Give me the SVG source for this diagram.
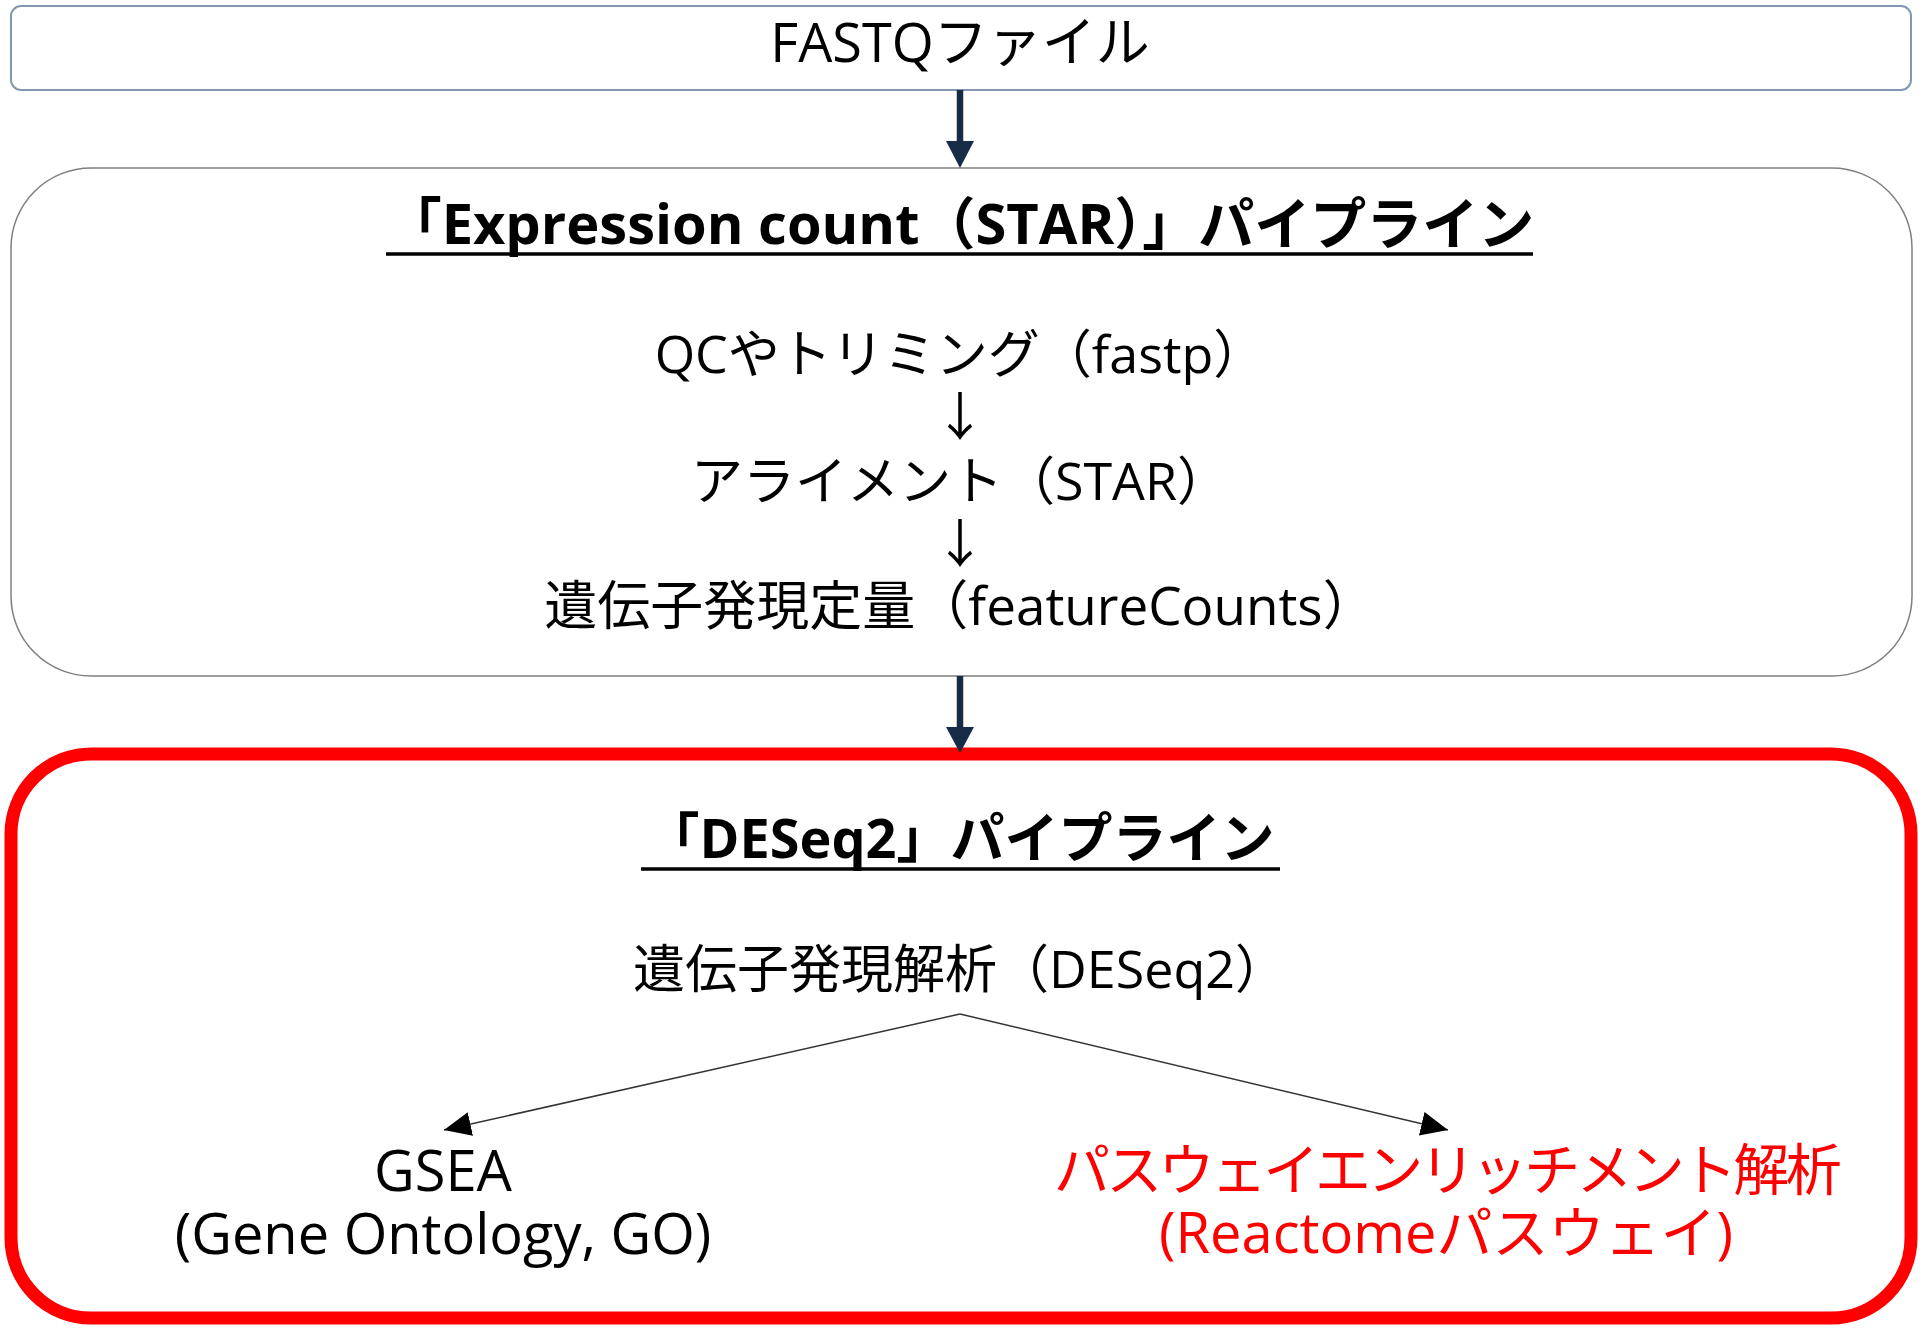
<svg xmlns="http://www.w3.org/2000/svg" width="1920" height="1328" viewBox="0 0 1920 1328">
<defs>
<style>
.t{font-family:"Open Sans","Noto Sans CJK JP",sans-serif;fill:#000;text-anchor:middle}
.b{font-weight:700}
.red{fill:#ff0000}
.ul{stroke:#000;stroke-width:3.5}
.thin{stroke:#333;stroke-width:1.5;fill:none}
.navy{stroke:#162b45;stroke-width:6.5}
</style>
<marker id="ah" markerUnits="userSpaceOnUse" markerWidth="27" markerHeight="24" refX="27" refY="12" orient="auto" viewBox="0 0 27 24">
<path d="M0,0 L27,12 L0,24 z" fill="#000"/>
</marker>
</defs>
<rect width="1920" height="1328" fill="#fff"/>
<g id="fastq">
<rect x="11" y="6" width="1900" height="84" rx="10" fill="#fff" stroke="#8497b0" stroke-width="2"/>
<text class="t" x="960" y="62" font-size="54">FASTQファイル</text>
</g>
<g id="star">
<rect x="11" y="168" width="1901" height="508" rx="80" fill="#fff" stroke="#7f7f7f" stroke-width="1.5"/>
<text class="t b" x="960" y="244" font-size="56">「Expression count（STAR）」パイプライン</text>
<line class="ul" x1="386" y1="254" x2="1533" y2="254"/>
<text class="t" x="960" y="373" font-size="52">QCやトリミング（fastp）</text>
<text class="t" x="960" y="436" font-size="52">↓</text>
<text class="t" x="960" y="500" font-size="52">アライメント（STAR）</text>
<text class="t" x="960" y="563" font-size="52">↓</text>
<text class="t" x="960" y="625" font-size="53">遺伝子発現定量（featureCounts）</text>
</g>
<g id="deseq2">
<rect x="11" y="754" width="1900" height="564" rx="80" fill="#fff" stroke="#ff0000" stroke-width="13"/>
<text class="t b" x="960" y="858" font-size="54">「DESeq2」パイプライン</text>
<line class="ul" x1="641" y1="869" x2="1280" y2="869"/>
<text class="t" x="960" y="988" font-size="52">遺伝子発現解析（DESeq2）</text>
</g>
<g id="gsea">
<text class="t" x="443" y="1191" font-size="56">GSEA</text>
<text class="t" x="443" y="1254" font-size="56">(Gene Ontology, GO)</text>
</g>
<g id="pathway">
<text class="t red" x="1446" y="1190" font-size="56" letter-spacing="-3.7">パスウェイエンリッチメント解析</text>
<text class="t red" x="1446" y="1253" font-size="56">(Reactomeパスウェイ)</text>
</g>
<g id="connectors">
<line class="navy" x1="960" y1="90" x2="960" y2="142"/>
<path d="M946,141 L974,141 L960,168 z" fill="#162b45"/>
<line class="navy" x1="960" y1="676" x2="960" y2="728"/>
<path d="M946,727 L974,727 L960,753 z" fill="#162b45"/>
<line class="thin" x1="960" y1="1014" x2="444" y2="1130" marker-end="url(#ah)"/>
<line class="thin" x1="960" y1="1014" x2="1448" y2="1130" marker-end="url(#ah)"/>
</g>
</svg>
